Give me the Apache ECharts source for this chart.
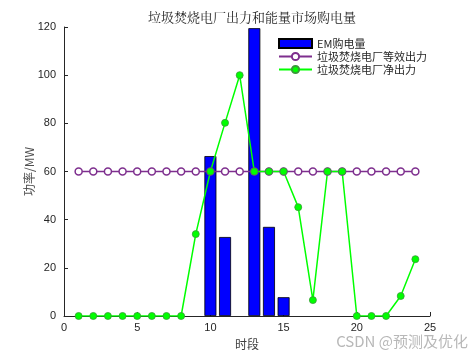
<!DOCTYPE html>
<html><head><meta charset="utf-8">
<script src="https://cdn.jsdelivr.net/npm/echarts@6/dist/echarts.min.js"></script>
<style>html,body{margin:0;padding:0;background:#fff}#c{width:474px;height:355px}</style>
</head><body><div id="c"></div>
<script>
const periods = [1,2,3,4,5,6,7,8,9,10,11,12,13,14,15,16,17,18,19,20,21,22,23,24];
const emPurchase = [0,0,0,0,0,0,0,0,0,66.4,32.8,0,119.5,37,7.8,0,0,0,0,0,0,0,0,0];
const equivOutput = [60,60,60,60,60,60,60,60,60,60,60,60,60,60,60,60,60,60,60,60,60,60,60,60];
const netOutput = [0,0,0,0,0,0,0,0,34,60,80.2,100,60,60,60,45.2,6.6,60,60,0,0,0,8.3,23.6];
const xTicks = [0,5,10,15,20,25];
const yTicks = [0,20,40,60,80,100,120];
const names = ['EM购电量','垃圾焚烧电厂等效出力','垃圾焚烧电厂净出力'];

const axisColor = '#262626';
const font = 'Arial, "Liberation Sans", "Noto Sans CJK SC"';
const chart = echarts.init(document.getElementById('c'), null, {renderer:'canvas'});
chart.setOption({
  animation:false,
  backgroundColor:'#fff',
  title:{text:'垃圾焚烧电厂出力和能量市场购电量', left:247, textAlign:'center', top:6,
    textStyle:{fontSize:13, fontWeight:'normal', color:'#262626', fontFamily:'"Noto Serif CJK SC","Noto Sans CJK SC",serif'}},
  grid:{left:64, right:44, top:27, bottom:39},
  legend:{left:273, top:33, orient:'vertical', itemWidth:33, itemHeight:9, itemGap:2,
    textStyle:{fontSize:11, color:'#262626', fontFamily:'"Noto Sans CJK SC"'},
    data:[{name:names[0], icon:'rect'},{name:names[1]},{name:names[2]}]},
  xAxis:{type:'value', min:xTicks[0], max:xTicks[xTicks.length-1], interval:5,
    name:'时段', nameLocation:'middle', nameGap:22,
    nameTextStyle:{fontSize:12, color:'#404040', fontFamily:'"Noto Sans CJK SC"'},
    axisLine:{show:true, lineStyle:{color:axisColor, width:1}},
    axisTick:{show:true, inside:true, length:4, lineStyle:{color:axisColor}},
    axisLabel:{fontSize:11, color:axisColor, margin:6, fontFamily:font},
    splitLine:{show:false}},
  yAxis:{type:'value', min:yTicks[0], max:yTicks[yTicks.length-1], interval:20,
    name:'功率/MW', nameLocation:'middle', nameGap:29, nameMoveOverlap:false,
    nameTextStyle:{fontSize:12, color:'#505050', fontFamily:'"Noto Sans CJK SC"'},
    axisLine:{show:true, lineStyle:{color:axisColor, width:1}},
    axisTick:{show:true, inside:true, length:4, lineStyle:{color:axisColor}},
    axisLabel:{fontSize:11, color:axisColor, margin:8, fontFamily:font},
    splitLine:{show:false}},
  series:[
    {name:names[0], type:'bar', barWidth:12,
     data:periods.map((p,i)=>[p,emPurchase[i]]).filter(d=>d[1]>0),
     itemStyle:{color:'#0000FF', borderColor:'#000', borderWidth:0.8}},
    {name:names[1], type:'line', symbol:'circle', symbolSize:7,
     data:periods.map((p,i)=>[p,equivOutput[i]]),
     lineStyle:{color:'#7E2F8E', width:1.5},
     itemStyle:{color:'#fff', borderColor:'#7E2F8E', borderWidth:1.5}},
    {name:names[2], type:'line', symbol:'circle', symbolSize:7,
     data:periods.map((p,i)=>[p,netOutput[i]]),
     lineStyle:{color:'#00FF00', width:1.5},
     itemStyle:{color:'#00FF00', borderColor:'#3a9a3a', borderWidth:0.8}}
  ],
  graphic:[{type:'text', right:6, bottom:6,
    style:{text:'CSDN @预测及优化', fontSize:15, fill:'#b8b8b8', fontFamily:'"Noto Sans CJK SC"'}}]
});
</script></body></html>
